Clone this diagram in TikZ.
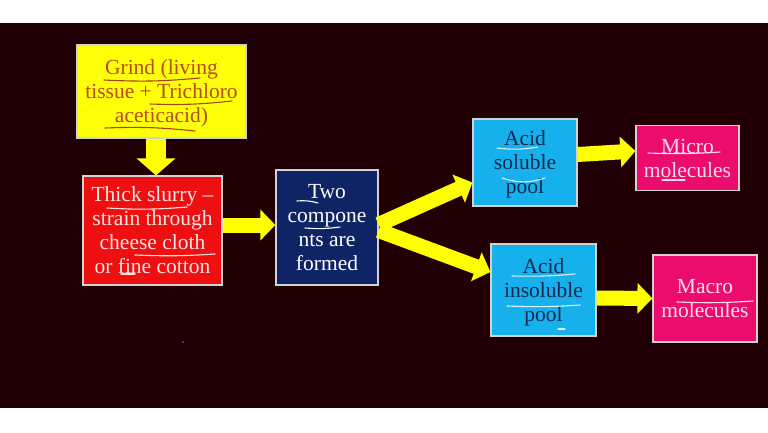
\documentclass[tikz,border=0pt]{standalone}
\usepackage{fontspec}
\setmainfont{Liberation Serif}
\usetikzlibrary{arrows.meta}

\definecolor{slide}{RGB}{32,0,4}
\definecolor{boxyellow}{RGB}{255,255,10}
\definecolor{grindtext}{RGB}{185,75,20}
\definecolor{boxred}{RGB}{238,16,16}
\definecolor{redtext}{RGB}{255,228,228}
\definecolor{boxnavy}{RGB}{14,36,100}
\definecolor{boxcyan}{RGB}{22,176,236}
\definecolor{cyantext}{RGB}{18,40,78}
\definecolor{boxpink}{RGB}{236,12,110}
\definecolor{pinktext}{RGB}{255,220,235}
\definecolor{arrowyellow}{RGB}{255,255,0}

\tikzset{
  box/.style={draw=gray!35, line width=1.2pt, align=center, inner sep=0pt,
    text depth=-4pt, font=\fontsize{21.5}{24}\selectfont},
  bigarrow/.style={arrowyellow, line width=15pt, -{Triangle[length=15pt,width=30pt]}},
  pen/.style={line width=1.1pt, line cap=round},
}

\begin{document}
\begin{tikzpicture}[x=1pt,y=-1pt]

\useasboundingbox (0,0) rectangle (768,433);
\fill[white] (0,0) rectangle (768,433);
\fill[slide] (0,23) rectangle (768,408);

% The boxes
\node[box, fill=boxyellow, text=grindtext, minimum width=169pt, minimum height=93pt] (grind) at (161.5,91.5) {Grind (living\\tissue + Trichloro\\aceticacid)};
\node[box, fill=boxred, text=redtext, minimum width=139pt, minimum height=109pt] (slurry) at (152.5,230.5) {Thick slurry --\\strain through\\cheese cloth\\or fine cotton};
\node[box, fill=boxnavy, text=white, minimum width=102pt, minimum height=115pt] (two) at (327,227.5) {Two\\compone\\nts are\\formed};
\node[box, fill=boxcyan, text=cyantext, minimum width=104pt, minimum height=87pt] (sol) at (525,162.5) {Acid\\soluble\\pool};
\node[box, fill=boxcyan, text=cyantext, minimum width=105pt, minimum height=92pt] (insol) at (543.5,290) {Acid\\insoluble\\pool};
\node[box, fill=boxpink, text=pinktext, minimum width=103pt, minimum height=65pt] (micro) at (687.5,158) {Micro\\molecules};
\node[box, fill=boxpink, text=pinktext, minimum width=104pt, minimum height=87pt] (macro) at (705,298.5) {Macro\\molecules};

% The block arrows
\draw[bigarrow, line width=20pt, -{Triangle[length=17pt,width=38pt]}] ([xshift=-5.5pt]grind.south) -- ([xshift=3.5pt]slurry.north);
\draw[bigarrow] ([yshift=5.5pt]slurry.east) -- ([yshift=2.5pt]two.west);
\draw[bigarrow] ([yshift=3pt]two.east) -- ([yshift=-20pt]sol.west);
\draw[bigarrow] ([yshift=-3pt]two.east) -- ([yshift=18pt]insol.west);
\draw[bigarrow] ([yshift=8pt]sol.east) -- ([yshift=7pt]micro.west);
\draw[bigarrow] ([yshift=-8pt]insol.east) -- ([yshift=0pt]macro.west);

% The pen marks
\draw[pen, grindtext!90!black] (104,80) to[bend right=4] (200,78);
\draw[pen, grindtext!90!black] (150,104) to[bend right=4] (232,101);
\draw[pen, grindtext!90!black] (105,128) to[bend left=4] (195,131);
\draw[pen, redtext] (107,208) to[bend right=4] (187,207);
\draw[pen, redtext] (135,255) to[bend right=3] (215,254);
\draw[pen, redtext] (121,274) -- (135,274);
\draw[pen, white] (297,201) to[bend left=10] (318,203);
\draw[pen, white] (305,228) to[bend right=6] (340,227);
\draw[pen, white!85!boxcyan] (497,148) to[bend right=8] (538,147);
\draw[pen, white!85!boxcyan] (502,178) to[bend right=18] (545,178);
\draw[pen, white!85!boxcyan] (512,276) to[bend right=3] (575,274);
\draw[pen, white!85!boxcyan] (507,306) to[bend right=3] (580,305);
\draw[pen, white!85!boxcyan] (558,329) -- (565,329);
\draw[pen, pinktext] (648,153) to[bend right=3] (720,152);
\draw[pen, pinktext] (662,180) -- (685,180);
\draw[pen, pinktext] (677,302) to[bend right=3] (753,301);

\fill[gray] (183,342) circle (0.8pt);

\end{tikzpicture}
\end{document}
